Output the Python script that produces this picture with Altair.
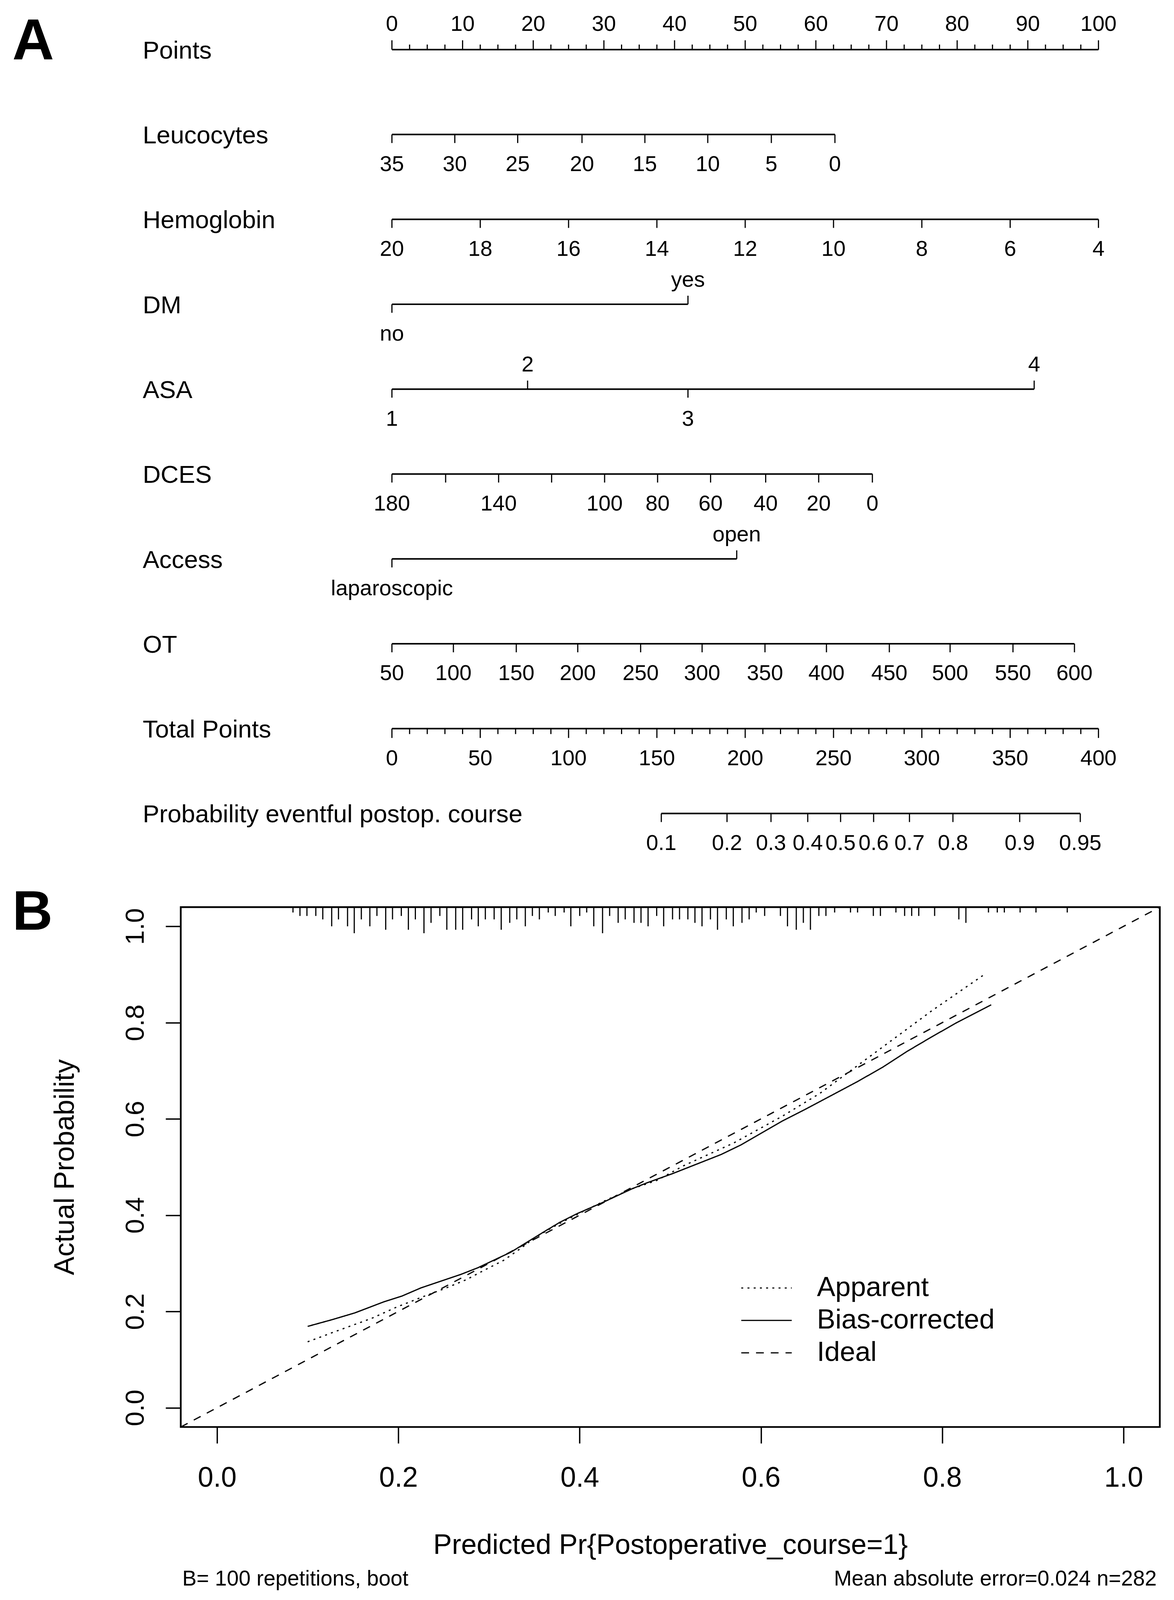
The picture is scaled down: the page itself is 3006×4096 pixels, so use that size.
import altair as alt
import pandas as pd

S = 0.994
FONT = "Liberation Sans"

# ===================== Panel A : nomogram =====================
# positions are on the 0-100 "Points" scale
ROW_NAMES = ["Points", "Leucocytes", "Hemoglobin", "DM", "ASA", "DCES",
             "Access", "OT", "Total Points", "Probability eventful postop. course"]

POINTS_LABELS = [0, 10, 20, 30, 40, 50, 60, 70, 80, 90, 100]
POINTS_MINOR_STEP = 2.5

LEUCO_LABELS = ["35", "30", "25", "20", "15", "10", "5", "0"]
LEUCO_POS = [0, 8.9, 17.8, 26.9, 35.8, 44.7, 53.7, 62.7]

HB_LABELS = ["20", "18", "16", "14", "12", "10", "8", "6", "4"]
HB_POS = [0, 12.5, 25, 37.5, 50, 62.5, 75, 87.5, 100]

DM_LABELS = ["no", "yes"]
DM_POS = [0, 41.9]
DM_SIDE = ["below", "above"]

ASA_LABELS = ["1", "2", "3", "4"]
ASA_POS = [0, 19.2, 41.9, 90.9]
ASA_SIDE = ["below", "above", "below", "above"]

DCES_LABELS = ["180", "", "140", "", "100", "80", "60", "40", "20", "0"]
DCES_POS = [0, 7.6, 15.1, 22.6, 30.1, 37.6, 45.1, 52.9, 60.4, 68.0]

ACCESS_LABELS = ["laparoscopic", "open"]
ACCESS_POS = [0, 48.8]
ACCESS_SIDE = ["below", "above"]

OT_LABELS = ["50", "100", "150", "200", "250", "300", "350", "400", "450", "500", "550", "600"]
OT_POS = [0, 8.7, 17.6, 26.3, 35.2, 43.9, 52.8, 61.5, 70.4, 79.0, 87.9, 96.6]

TOTAL_LABELS = [0, 50, 100, 150, 200, 250, 300, 350, 400]
TOTAL_MINOR_STEP = 10
TOTAL_MAX = 400

PROB_LABELS = ["0.1", "0.2", "0.3", "0.4", "0.5", "0.6", "0.7", "0.8", "0.9", "0.95"]
PROB_TOTAL = [152.5, 189.7, 214.6, 235.4, 254.0, 272.7, 293.0, 317.6, 355.4, 389.7]

# ===================== Panel B : calibration =====================
RUG_P = [0.0838, 0.0915, 0.0992, 0.1090, 0.1167, 0.1265, 0.1340, 0.1440, 0.1514, 0.1592,
         0.1686, 0.1764, 0.1861, 0.1936, 0.2033, 0.2111, 0.2188, 0.2283, 0.2361, 0.2458,
         0.2535, 0.2633, 0.2710, 0.2808, 0.2882, 0.2960, 0.3057, 0.3135, 0.3229, 0.3307,
         0.3401, 0.3479, 0.3556, 0.3654, 0.3731, 0.3829, 0.3903, 0.4001, 0.4078, 0.4156,
         0.4253, 0.4331, 0.4425, 0.4503, 0.4600, 0.4677, 0.4755, 0.4850, 0.4927, 0.5025,
         0.5102, 0.5194, 0.5272, 0.5350, 0.5443, 0.5521, 0.5618, 0.5695, 0.5791, 0.5870,
         0.5948, 0.6041, 0.6215, 0.6293, 0.6390, 0.6468, 0.6546, 0.6639, 0.6717, 0.6813,
         0.6988, 0.7066, 0.7240, 0.7318, 0.7489, 0.7585, 0.7663, 0.7741, 0.7916, 0.8183,
         0.8261, 0.8510, 0.8607, 0.8685, 0.8859, 0.9034, 0.9379]
RUG_N = [1, 2, 2, 2, 3, 5, 3, 5, 7, 3,
         5, 2, 6, 3, 2, 6, 3, 7, 4, 2,
         6, 6, 6, 3, 5, 3, 3, 6, 4, 3,
         5, 2, 3, 1, 2, 1, 5, 2, 1, 5,
         7, 2, 4, 3, 4, 4, 5, 2, 5, 3,
         3, 3, 4, 5, 3, 6, 3, 5, 4, 3,
         1, 2, 2, 5, 6, 4, 6, 2, 2, 1,
         1, 1, 2, 2, 1, 2, 2, 2, 2, 3,
         4, 1, 1, 1, 1, 1, 1]

BC_X = [0.100, 0.127, 0.152, 0.184, 0.204, 0.225, 0.247, 0.269, 0.288, 0.307, 0.324,
        0.343, 0.362, 0.378, 0.397, 0.425, 0.458, 0.474, 0.502, 0.529, 0.556, 0.578,
        0.600, 0.624, 0.649, 0.679, 0.706, 0.734, 0.761, 0.788, 0.816, 0.854]
BC_Y = [0.169, 0.183, 0.197, 0.220, 0.232, 0.249, 0.263, 0.277, 0.291, 0.308, 0.323,
        0.345, 0.367, 0.385, 0.403, 0.426, 0.455, 0.467, 0.486, 0.506, 0.526, 0.546,
        0.570, 0.596, 0.620, 0.650, 0.677, 0.707, 0.740, 0.770, 0.800, 0.837]

AP_X = [0.100, 0.130, 0.171, 0.198, 0.225, 0.253, 0.275, 0.294, 0.316, 0.335, 0.351,
        0.376, 0.403, 0.430, 0.458, 0.485, 0.515, 0.570, 0.624, 0.665, 0.706, 0.747,
        0.788, 0.821, 0.848]
AP_Y = [0.137, 0.158, 0.186, 0.209, 0.229, 0.249, 0.266, 0.285, 0.306, 0.331, 0.354,
        0.381, 0.407, 0.432, 0.455, 0.472, 0.503, 0.550, 0.606, 0.653, 0.710, 0.767,
        0.824, 0.867, 0.902]

IDEAL_X = [-0.04, 1.04]
IDEAL_Y = [-0.04, 1.04]

SERIES = ["Apparent", "Bias-corrected", "Ideal"]
AXIS_TICKS = [0.0, 0.2, 0.4, 0.6, 0.8, 1.0]
X_TITLE = "Predicted Pr{Postoperative_course=1}"
Y_TITLE = "Actual Probability"
NOTE_LEFT = "B= 100 repetitions, boot"
NOTE_RIGHT = "Mean absolute error=0.024 n=282"

# ---------------- build panel A tables ----------------
ticks, labels = [], []


def add_row(row, pos_list, lab_list, side_list, kind_up="up", kind_down="down"):
    for p, l, s in zip(pos_list, lab_list, side_list):
        ticks.append({"row": row, "pos": p, "kind": kind_up if s == "above" else kind_down})
        if l != "":
            labels.append({"row": row, "pos": p, "label": l, "side": s})


# Points row
n_minor = int(100 / POINTS_MINOR_STEP)
for k in range(n_minor + 1):
    v = k * POINTS_MINOR_STEP
    ticks.append({"row": 0, "pos": v, "kind": "up_major" if v in POINTS_LABELS else "up_minor"})
for v in POINTS_LABELS:
    labels.append({"row": 0, "pos": v, "label": str(v), "side": "above_pts"})

add_row(1, LEUCO_POS, LEUCO_LABELS, ["below"] * len(LEUCO_POS))
add_row(2, HB_POS, HB_LABELS, ["below"] * len(HB_POS))
add_row(3, DM_POS, DM_LABELS, DM_SIDE)
add_row(4, ASA_POS, ASA_LABELS, ASA_SIDE)
add_row(5, DCES_POS, DCES_LABELS, ["below"] * len(DCES_POS))
add_row(6, ACCESS_POS, ACCESS_LABELS, ACCESS_SIDE)
add_row(7, OT_POS, OT_LABELS, ["below"] * len(OT_POS))

n_tot = int(TOTAL_MAX / TOTAL_MINOR_STEP)
for k in range(n_tot + 1):
    v = k * TOTAL_MINOR_STEP
    ticks.append({"row": 8, "pos": v * 100 / TOTAL_MAX,
                  "kind": "down_major" if v in TOTAL_LABELS else "down_minor"})
for v in TOTAL_LABELS:
    labels.append({"row": 8, "pos": v * 100 / TOTAL_MAX, "label": str(v), "side": "below"})

add_row(9, [t * 100 / TOTAL_MAX for t in PROB_TOTAL], PROB_LABELS, ["below"] * len(PROB_TOTAL))

ticks_df = pd.DataFrame(ticks)
labels_df = pd.DataFrame(labels)
lines_df = ticks_df.groupby("row")["pos"].agg(["min", "max"]).reset_index()
lines_df.columns = ["row", "start", "end"]
names_df = pd.DataFrame({"row": list(range(len(ROW_NAMES))), "name": ROW_NAMES})

xA = alt.Scale(domain=[-29.89, 100], nice=False, zero=False)
yA = alt.Scale(domain=[0, 9], nice=False, zero=False, reverse=True)

TICK_LEN = {"up_major": 24, "up_minor": 13, "up": 22,
            "down": 22, "down_major": 24, "down_minor": 14}

layersA = []
layersA.append(
    alt.Chart(lines_df).mark_rule(color="black", strokeWidth=4 * S).encode(
        x=alt.X("start:Q", scale=xA, axis=None), x2="end:Q",
        y=alt.Y("row:Q", scale=yA, axis=None))
)
for kind, ln in TICK_LEN.items():
    sub = ticks_df[ticks_df["kind"] == kind]
    if len(sub) == 0:
        continue
    off = -ln / 2 if kind.startswith("up") else ln / 2
    layersA.append(
        alt.Chart(sub).mark_tick(orient="vertical", size=ln * S, thickness=3 * S,
                                 color="black", opacity=1, yOffset=off * S).encode(
            x=alt.X("pos:Q", scale=xA, axis=None),
            y=alt.Y("row:Q", scale=yA, axis=None))
    )

LABEL_DY = {"above_pts": -48, "above": -45, "below": 94}
for side, dy in LABEL_DY.items():
    sub = labels_df[labels_df["side"] == side]
    layersA.append(
        alt.Chart(sub).mark_text(font=FONT, fontSize=56 * S, color="black", align="center",
                                 baseline="alphabetic", dy=dy * S).encode(
            x=alt.X("pos:Q", scale=xA, axis=None),
            y=alt.Y("row:Q", scale=yA, axis=None),
            text="label:N")
    )

layersA.append(
    alt.Chart(names_df).mark_text(font=FONT, fontSize=64 * S, color="black", align="left",
                                  baseline="alphabetic", dy=23 * S).encode(
        x=alt.value(-98 * S),
        y=alt.Y("row:Q", scale=yA, axis=None),
        text="name:N")
)
layersA.append(
    alt.Chart(pd.DataFrame({"t": ["A"]})).mark_text(
        font=FONT, fontSize=149 * S, fontWeight="bold", color="black",
        align="left", baseline="alphabetic").encode(
        x=alt.value(-434 * S), y=alt.value(25 * S), text="t:N")
)

panelA = alt.layer(*layersA).properties(
    width=2364 * S, height=1967.4 * S,
    view=alt.ViewBackground(stroke="transparent"))

# ---------------- panel B ----------------
rug_df = pd.DataFrame({"p": RUG_P, "n": RUG_N})
rug_df["top"] = 1.04
rug_df["bottom"] = 1.04 - (8.9 * rug_df["n"] + 5) / 1239.8

curve_df = pd.concat([
    pd.DataFrame({"x": AP_X, "y": AP_Y, "series": "Apparent"}),
    pd.DataFrame({"x": BC_X, "y": BC_Y, "series": "Bias-corrected"}),
    pd.DataFrame({"x": IDEAL_X, "y": IDEAL_Y, "series": "Ideal"}),
], ignore_index=True)

xB = alt.Scale(domain=[-0.04, 1.04], nice=False, zero=False)
yB = alt.Scale(domain=[-0.04, 1.04], nice=False, zero=False)

x_axis = alt.Axis(values=AXIS_TICKS, format=".1f", grid=False, domain=False,
                  tickSize=42 * S, tickWidth=3.5 * S, tickColor="black",
                  labelFont=FONT, labelFontSize=72 * S, labelColor="black",
                  labelPadding=54 * S, labelFlush=False, labelOverlap=False,
                  titleFont=FONT, titleFontSize=72 * S, titleFontWeight="normal",
                  titleColor="black", titleY=326 * S, titleBaseline="alphabetic")
y_axis = alt.Axis(values=AXIS_TICKS, format=".1f", grid=False, domain=False,
                  tickSize=39 * S, tickWidth=3.5 * S, tickColor="black",
                  labelFont=FONT, labelFontSize=68 * S, labelColor="black",
                  labelAngle=270, labelAlign="center", labelBaseline="bottom",
                  labelPadding=43 * S, labelFlush=False, labelOverlap=False,
                  titleFont=FONT, titleFontSize=72 * S, titleFontWeight="normal",
                  titleColor="black", titleAngle=270, titleBaseline="bottom",
                  titleAlign="center", titleX=-261 * S, titleY=669.5 * S)

rug = alt.Chart(rug_df).mark_rule(color="black", strokeWidth=3 * S).encode(
    x=alt.X("p:Q", scale=xB, axis=x_axis, title=X_TITLE),
    y=alt.Y("top:Q", scale=yB, axis=y_axis, title=Y_TITLE),
    y2="bottom:Q")

lines = alt.Chart(curve_df).mark_line(color="black", strokeWidth=3.2 * S, clip=True).encode(
    x=alt.X("x:Q", scale=xB, axis=x_axis, title=X_TITLE),
    y=alt.Y("y:Q", scale=yB, axis=y_axis, title=Y_TITLE),
    strokeDash=alt.StrokeDash(
        "series:N",
        scale=alt.Scale(domain=SERIES, range=[[5 * S, 11 * S], [1, 0], [20 * S, 18 * S]]),
        title=None,
        legend=alt.Legend(orient="none", legendX=1442 * S, legendY=939.5 * S,
                          symbolType="stroke", symbolSize=(130 * S) ** 2,
                          symbolStrokeWidth=3 * S, symbolStrokeColor="black",
                          labelFont=FONT, labelFontSize=71 * S, labelColor="black",
                          labelLimit=2000,
                          labelOffset=63 * S, clipHeight=83 * S, rowPadding=0,
                          padding=0)))

b_label = alt.Chart(pd.DataFrame({"t": ["B"]})).mark_text(
    font=FONT, fontSize=144 * S, fontWeight="bold", color="black",
    align="left", baseline="alphabetic").encode(
    x=alt.value(-434 * S), y=alt.value(58 * S), text="t:N")

note_l = alt.Chart(pd.DataFrame({"t": [NOTE_LEFT]})).mark_text(
    font=FONT, fontSize=55 * S, color="black", align="left", baseline="alphabetic").encode(
    x=alt.value(4 * S), y=alt.value(1747 * S), text="t:N")
note_r = alt.Chart(pd.DataFrame({"t": [NOTE_RIGHT]})).mark_text(
    font=FONT, fontSize=55 * S, color="black", align="right", baseline="alphabetic").encode(
    x=alt.value(2514 * S), y=alt.value(1747 * S), text="t:N")

panelB = alt.layer(rug, lines, b_label, note_l, note_r).properties(
    width=2522 * S, height=1339 * S,
    view=alt.ViewBackground(stroke="black", strokeWidth=4.5 * S))

chart = alt.vconcat(panelA, panelB, spacing=240.6 * S, bounds="flush").resolve_scale(
    strokeDash="independent").resolve_legend(strokeDash="independent").properties(
    padding={"left": 20.8, "top": 25.0, "right": 10, "bottom": 5}
).configure(font=FONT, background="white").configure_view(stroke="transparent")

chart.save("out.html", embed_options={"renderer": "svg", "actions": False})
